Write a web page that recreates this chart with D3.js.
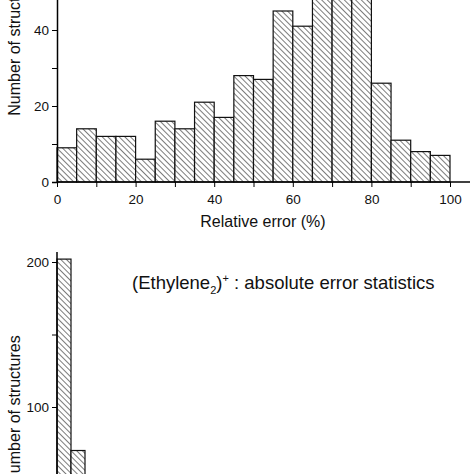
<!DOCTYPE html>
<html><head><meta charset="utf-8">
<script src="https://cdn.jsdelivr.net/npm/d3@7"></script>
<style>body{margin:0;background:#fff}svg{display:block}text{font-family:"Liberation Sans",Arial,sans-serif;fill:#111}</style>
</head><body><svg id="c" width="474" height="474"></svg>
<script>
// top histogram: relative error, 5% bins
const relBinStarts = [0,5,10,15,20,25,30,35,40,45,50,55,60,65,70,75,80,85,90,95];
const relCounts = [9,14,12,12,6,16,14,21,17,28,27,45,41,53,56,51,26,11,8,7];
const relTicks = [0,20,40,60,80,100];
const relCountTicks = [0,20,40];

// bottom histogram: absolute error (only first bins visible)
const absBinStarts = [0,1];
const absCounts = [202,70];
const absCountTicks = [100,200];

const svg = d3.select('#c');

// hatch fill, lines running top-left to bottom-right
const defs = svg.append('defs');
const pat = defs.append('pattern').attr('id','hatch').attr('patternUnits','userSpaceOnUse')
  .attr('width',4).attr('height',4).attr('patternTransform','rotate(45)');
pat.append('rect').attr('width',4).attr('height',4).attr('fill','#fff');
pat.append('line').attr('x1',0).attr('y1',0).attr('x2',4).attr('y2',0)
  .attr('stroke','#111').attr('stroke-width',1.1);

// ---- top chart
const x1 = d3.scaleLinear().domain([0,100]).range([57,450]);
const y1 = d3.scaleLinear().domain([0,60]).range([182,182-60*3.8]);

svg.append('g').selectAll('rect').data(relCounts).enter().append('rect')
  .attr('x',(d,i)=>x1(relBinStarts[i]))
  .attr('width',x1(5)-x1(0))
  .attr('y',d=>y1(d))
  .attr('height',d=>y1(0)-y1(d))
  .attr('fill','url(#hatch)').attr('stroke','#111').attr('stroke-width',1.2);

svg.append('g').attr('transform','translate(0,182)')
  .call(d3.axisBottom(x1).tickValues(d3.range(0,101,10)).tickSize(5).tickFormat(d=>relTicks.includes(d)?d:''))
  .call(g=>g.select('.domain').attr('d','M57,0H470').attr('stroke-width',1.5))
  .call(g=>g.selectAll('text').attr('font-size',13.5).attr('dy','1em'));

svg.append('g').attr('transform','translate(57,0)')
  .call(d3.axisLeft(y1).tickValues([0,10,20,30,40,50]).tickSize(5).tickFormat(d=>relCountTicks.includes(d)?d:''))
  .call(g=>g.select('.domain').attr('stroke-width',1.5))
  .call(g=>g.selectAll('text').attr('font-size',13.5));

svg.append('text').attr('x',263).attr('y',227).attr('text-anchor','middle')
  .attr('font-size',16).text('Relative error (%)');
svg.append('text').attr('transform','translate(20,41) rotate(-90)').attr('text-anchor','middle')
  .attr('font-size',16).text('Number of structures');

// ---- bottom chart
const x2 = d3.scaleLinear().domain([0,1]).range([57,71]);
const y2 = d3.scaleLinear().domain([0,200]).range([552,262]);

svg.append('g').selectAll('rect').data(absCounts).enter().append('rect')
  .attr('x',(d,i)=>x2(absBinStarts[i]))
  .attr('width',x2(1)-x2(0))
  .attr('y',d=>y2(d))
  .attr('height',d=>y2(0)-y2(d))
  .attr('fill','url(#hatch)').attr('stroke','#111').attr('stroke-width',1.2);

svg.append('g').attr('transform','translate(57,0)')
  .call(d3.axisLeft(y2).tickValues([50,100,150,200]).tickSize(5).tickFormat(d=>absCountTicks.includes(d)?d:''))
  .call(g=>g.select('.domain').attr('d','M0,552V252').attr('stroke-width',1.5))
  .call(g=>g.selectAll('text').attr('font-size',13.5));

svg.append('text').attr('transform','translate(20,410) rotate(-90)').attr('text-anchor','middle')
  .attr('font-size',16).text('Number of structures');

const t = svg.append('text').attr('x',132).attr('y',289).attr('font-size',18.5);
t.append('tspan').text('(Ethylene');
t.append('tspan').attr('font-size',11).attr('dy',5).text('2');
t.append('tspan').attr('dy',-5).text(')');
t.append('tspan').attr('font-size',11).attr('dy',-7).text('+');
t.append('tspan').attr('dy',7).text(' : absolute error statistics');
</script></body></html>
